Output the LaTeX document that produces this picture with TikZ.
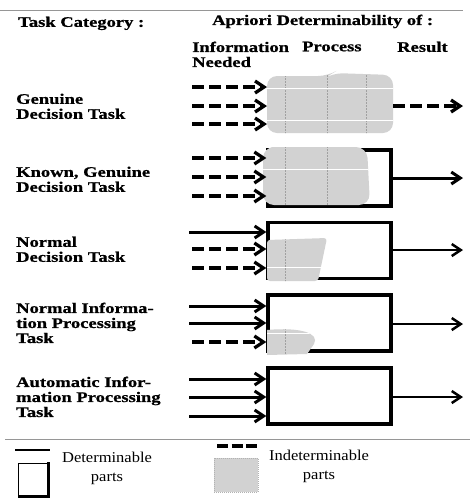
\documentclass[tikz,border=0pt]{standalone}
\usepackage{fontspec}
\setmainfont{Liberation Serif}
\newfontfamily\lblfont{Liberation Serif Bold}[FakeStretch=1.27, FakeBold=0.8]
\newfontfamily\legfont{Liberation Serif}[FakeStretch=1.1]
\usetikzlibrary{arrows.meta}
\definecolor{blobgray}{RGB}{210,210,210}
\definecolor{gridgray}{RGB}{160,160,160}
\definecolor{rulegray}{RGB}{150,150,150}
\begin{document}
\begin{tikzpicture}[x=1pt,y=-1pt,
  tip/.style={-{Straight Barb[length=9pt,width=12pt]}},
  det/.style={line width=3pt, tip},
  indet/.style={line width=3.3pt, dash pattern=on 12pt off 5pt, tip},
  outdet/.style={line width=2.5pt, tip},
  stepbox/.style={draw, line width=3.3pt, minimum width=123pt, minimum height=56pt, inner sep=0pt},
  blob/.style={fill=blobgray, draw=none},
  vgrid/.style={gridgray, line width=0.6pt, dash pattern=on 1.5pt off 1.5pt},
  hgrid/.style={white, line width=0.9pt},
  lbl/.style={anchor=north west, inner sep=0pt, align=left, font=\lblfont\fontsize{14.6}{15}\selectfont},
  leg/.style={anchor=north, inner sep=0pt, align=center, font=\legfont\fontsize{15}{18.5}\selectfont},
  rule/.style={rulegray, line width=0.8pt}
]
\useasboundingbox (0,0) rectangle (474,501);

% rules
\coordinate (r1a) at (0,10); \coordinate (r1b) at (463,10);
\draw[rule] (r1a) -- (r1b);
\coordinate (r2a) at (5,439); \coordinate (r2b) at (470,439);
\draw[rule] (r2a) -- (r2b);

% headers
\node[lbl] (hcat) at (18,16.5) {Task Category :};
\node[lbl] (hapr) at (212,14.5) {Apriori Determinability of :};
\node[lbl] (hinf) at (192,41.5) {Information\\Needed};
\node[lbl] (hpro) at (302,41.5) {Process};
\node[lbl] (hres) at (397,41.5) {Result};

% row labels
\node[lbl] (t1) at (16,93.5) {Genuine\\Decision Task};
\node[lbl] (t2) at (16,166.5) {Known, Genuine\\Decision Task};
\node[lbl] (t3) at (16,236.5) {Normal\\Decision Task};
\node[lbl] (t4) at (16,302.5) {Normal Informa-\\tion Processing\\Task};
\node[lbl] (t5) at (16,376.5) {Automatic Infor-\\mation Processing\\Task};

% boxes
\node[stepbox] (b2) at (329.5,178) {};
\node[stepbox] (b3) at (329.5,250.5) {};
\node[stepbox] (b4) at (329.5,323) {};
\node[stepbox] (b5) at (329.5,396) {};

% blobs
\node[draw=none, minimum width=126pt, minimum height=59pt, inner sep=0pt, outer sep=0pt] (b1) at (330,103.5) {};
\fill[blob, rounded corners=10pt,
  path picture={
    \draw[vgrid] (285,60) -- (285,140);
    \draw[vgrid] (327,60) -- (327,140);
    \draw[vgrid] (366,60) -- (366,140);
    \draw[hgrid] (260,88) -- (400,88);
    \draw[hgrid] (260,120) -- (400,120);
  }] (267,76) -- (328,76) -- (333,73) -- (393,75) -- (393,133) -- (267,133) -- cycle;

\fill[blob, rounded corners=11pt,
  path picture={
    \draw[vgrid] (285,140) -- (285,210);
    \draw[vgrid] (327,140) -- (327,210);
    \draw[hgrid] (255,169) -- (375,169);
  }] (282,147) -- (367,147) -- (370,205) -- (263,205) -- (263,147) -- cycle;

\fill[blob, rounded corners=3pt,
  path picture={
    \draw[vgrid] (285,235) -- (285,285);
    \draw[hgrid] (260,267) -- (330,267);
  }] (267,240) -- (327,238) -- (318,281) -- (267,281) -- cycle;

\fill[blob,
  path picture={
    \draw[vgrid] (285,325) -- (285,360);
    \draw[hgrid] (260,333) -- (320,333);
  }] (267,330) .. controls (300,327) and (320,333) .. (314,344) -- (307,354) -- (267,355) -- cycle;

% row 1 arrows
\coordinate (s11) at (192,87);  \coordinate (s12) at (192,106); \coordinate (s13) at (192,124);
\coordinate (o1) at (463,106);
\draw[indet] (s11) -- (s11 -| b1.west);
\draw[indet] (s12) -- (s12 -| b1.west);
\draw[indet] (s13) -- (s13 -| b1.west);
\draw[indet] (o1 -| b1.east) -- (o1);

% row 2 arrows
\coordinate (s21) at (192,158); \coordinate (s22) at (192,177); \coordinate (s23) at (192,196);
\coordinate (o2) at (463,178);
\draw[indet] (s21) -- (s21 -| b2.west);
\draw[indet] (s22) -- (s22 -| b2.west);
\draw[indet] (s23) -- (s23 -| b2.west);
\draw[outdet, line width=3pt] (o2 -| b2.east) -- (o2);

% row 3 arrows
\coordinate (s31) at (189,232); \coordinate (s32) at (192,249); \coordinate (s33) at (192,268);
\coordinate (o3) at (463,250);
\draw[det] (s31) -- (s31 -| b3.west);
\draw[indet] (s32) -- (s32 -| b3.west);
\draw[indet] (s33) -- (s33 -| b3.west);
\draw[outdet] (o3 -| b3.east) -- (o3);

% row 4 arrows
\coordinate (s41) at (189,306); \coordinate (s42) at (189,323); \coordinate (s43) at (192,342);
\coordinate (o4) at (463,324);
\draw[det] (s41) -- (s41 -| b4.west);
\draw[det] (s42) -- (s42 -| b4.west);
\draw[indet] (s43) -- (s43 -| b4.west);
\draw[outdet] (o4 -| b4.east) -- (o4);

% row 5 arrows
\coordinate (s51) at (189,379); \coordinate (s52) at (189,397); \coordinate (s53) at (189,416);
\coordinate (o5) at (463,397);
\draw[det] (s51) -- (s51 -| b5.west);
\draw[det] (s52) -- (s52 -| b5.west);
\draw[det] (s53) -- (s53 -| b5.west);
\draw[outdet] (o5 -| b5.east) -- (o5);

% legend
\coordinate (la) at (15,450); \coordinate (lb) at (50,450);
\draw[line width=2.8pt] (la) -- (lb);
\draw[line width=1pt] (48,463) -- (18,463) -- (18,496);
\draw[line width=3pt] (48,462) -- (48,496) -- (17.5,496);
\coordinate (lc) at (217,446); \coordinate (ld) at (257,446);
\draw[line width=3.3pt, dash pattern=on 11pt off 3.5pt] (lc) -- (ld);
\fill[blobgray] (214,458) rectangle (258,492);
\draw[gray!60, line width=0.5pt, dash pattern=on 1pt off 1pt] (214,458) rectangle (258,492);
\node[leg] (ldet) at (107,452) {Determinable\\parts};
\node[leg] (lind) at (319,450) {Indeterminable\\parts};
\end{tikzpicture}
\end{document}
